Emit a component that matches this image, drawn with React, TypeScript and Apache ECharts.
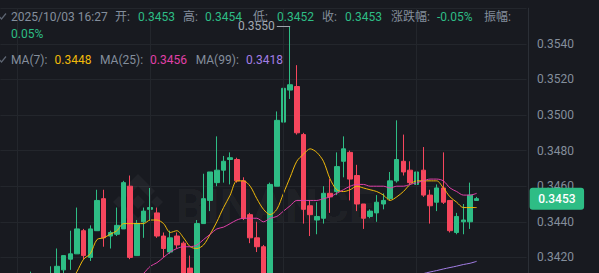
import React, { useEffect, useRef } from "react";
import * as echarts from "echarts";

// ---- data (oldest -> newest), each candle: open, close, low, high ----
const opens = [
  0.3402, 0.3405, 0.3403, 0.3407, 0.3406, 0.3409, 0.3407, 0.3406, 0.3409, 0.3413,
  0.3419, 0.3422, 0.3435, 0.3420, 0.3435, 0.3453, 0.3432, 0.3433, 0.3436, 0.3460,
  0.3421, 0.3440, 0.3447, 0.3445, 0.3432, 0.3423, 0.3432, 0.3428, 0.3414, 0.3406,
  0.3439, 0.3452, 0.3462, 0.3469, 0.3475, 0.3475, 0.3463, 0.3444, 0.3431, 0.3426,
  0.3404, 0.3460, 0.3496, 0.3514, 0.3516, 0.3489, 0.3449, 0.3441, 0.3442, 0.3456,
  0.3457, 0.3474, 0.3479, 0.3466, 0.3450, 0.3443, 0.3445, 0.3450, 0.3453, 0.3463,
  0.3474, 0.3469, 0.3461, 0.3469, 0.3455, 0.3451, 0.3459, 0.3452, 0.3434, 0.3440,
  0.3440, 0.3452,
];
const closes = [
  0.3405, 0.3403, 0.3407, 0.3406, 0.3409, 0.3407, 0.3410, 0.3409, 0.3415, 0.3421,
  0.3422, 0.3436, 0.3421, 0.3436, 0.3452, 0.3431, 0.3434, 0.3438, 0.3462, 0.3420,
  0.3439, 0.3446, 0.3448, 0.3432, 0.3425, 0.3431, 0.3427, 0.3408, 0.3407, 0.3439,
  0.3453, 0.3468, 0.3469, 0.3474, 0.3476, 0.3463, 0.3442, 0.3431, 0.3426, 0.3405,
  0.3461, 0.3497, 0.3515, 0.3517, 0.3490, 0.3447, 0.3444, 0.3443, 0.3456, 0.3454,
  0.3471, 0.3481, 0.3464, 0.3450, 0.3442, 0.3446, 0.3451, 0.3452, 0.3463, 0.3475,
  0.3468, 0.3462, 0.3468, 0.3455, 0.3449, 0.3459, 0.3451, 0.3435, 0.3443, 0.3441,
  0.3455, 0.3453,
];
const lows = [
  0.3399, 0.3400, 0.3401, 0.3403, 0.3404, 0.3404, 0.3405, 0.3404, 0.3407, 0.3409,
  0.3413, 0.3422, 0.3419, 0.3418, 0.3435, 0.3426, 0.3425, 0.3432, 0.3436, 0.3419,
  0.3421, 0.3431, 0.3441, 0.3431, 0.3420, 0.3422, 0.3425, 0.3405, 0.3404, 0.3404,
  0.3439, 0.3446, 0.3460, 0.3462, 0.3461, 0.3462, 0.3441, 0.3428, 0.3423, 0.3402,
  0.3400, 0.3460, 0.3480, 0.3509, 0.3489, 0.3439, 0.3432, 0.3433, 0.3439, 0.3445,
  0.3455, 0.3465, 0.3452, 0.3446, 0.3436, 0.3442, 0.3440, 0.3447, 0.3452, 0.3462,
  0.3466, 0.3461, 0.3448, 0.3454, 0.3439, 0.3446, 0.3450, 0.3434, 0.3433, 0.3433,
  0.3436, 0.3452,
];
const highs = [
  0.3407, 0.3408, 0.3409, 0.3410, 0.3412, 0.3411, 0.3411, 0.3415, 0.3425, 0.3421,
  0.3435, 0.3448, 0.3436, 0.3438, 0.3458, 0.3458, 0.3435, 0.3448, 0.3463, 0.3466,
  0.3441, 0.3448, 0.3459, 0.3448, 0.3434, 0.3435, 0.3434, 0.3429, 0.3421, 0.3441,
  0.3467, 0.3468, 0.3488, 0.3477, 0.3479, 0.3476, 0.3465, 0.3445, 0.3440, 0.3427,
  0.3462, 0.3502, 0.3517, 0.3550, 0.3528, 0.3490, 0.3452, 0.3451, 0.3460, 0.3464,
  0.3479, 0.3488, 0.3480, 0.3472, 0.3450, 0.3447, 0.3455, 0.3456, 0.3468, 0.3497,
  0.3489, 0.3474, 0.3482, 0.3482, 0.3458, 0.3461, 0.3479, 0.3452, 0.3445, 0.3450,
  0.3462, 0.3454,
];

// moving averages (only the visible stretch, newest last)
const ma7Visible = [
  0.3406, 0.3412, 0.3419, 0.3422, 0.3430, 0.3431, 0.3433, 0.3435, 0.3439, 0.3439,
  0.3439, 0.3439, 0.3441, 0.3441, 0.3439, 0.3434, 0.3435, 0.3431, 0.3426, 0.3425,
  0.3427, 0.3433, 0.3440, 0.3448, 0.3455, 0.3463, 0.3463, 0.3460, 0.3453, 0.3447,
  0.3444, 0.3447, 0.3456, 0.3465, 0.3474, 0.3478, 0.3481, 0.3479, 0.3474, 0.3464,
  0.3458, 0.3457, 0.3458, 0.3460, 0.3459, 0.3458, 0.3457, 0.3455, 0.3452, 0.3454,
  0.3457, 0.3461, 0.3463, 0.3463, 0.3463, 0.3463, 0.3459, 0.3454, 0.3451, 0.3448,
  0.3448, 0.3448,
];
const ma25Visible = [
  0.3408, 0.3411, 0.3415, 0.3417, 0.3420, 0.3423, 0.3425, 0.3426, 0.3426, 0.3427,
  0.3430, 0.3433, 0.3436, 0.3437, 0.3439, 0.3441, 0.3442, 0.3442, 0.3442, 0.3440,
  0.3442, 0.3443, 0.3446, 0.3449, 0.3452, 0.3452, 0.3452, 0.3452, 0.3453, 0.3454,
  0.3456, 0.3458, 0.3460, 0.3461, 0.3461, 0.3460, 0.3460, 0.3460, 0.3459, 0.3460,
  0.3460, 0.3461, 0.3462, 0.3463, 0.3464, 0.3464, 0.3463, 0.3459, 0.3457, 0.3455,
  0.3455, 0.3456,
];
const ma99Visible = [
  0.34101, 0.34109, 0.34118, 0.34126, 0.34135, 0.34143, 0.34151, 0.3416, 0.34167, 0.34178,
];

const EMPTY_SLOTS = 7; // empty room right of the last candle
const lastTime = "2025/10/03 16:27";
const yTicks = { min: 0.34, max: 0.356, interval: 0.002 };
const shownRange = { low: 0.341, high: 0.355 }; // tick labels that fit in the window
const gridEvery = 20; // vertical grid every 20 candles
const gridFirst = 2;

const UP = "#2ebd85";
const DOWN = "#f6465d";
const BG = "#181a20";
const GRIDC = "#23262c";
const TXT = "#848e9c";
const FONT = 'Roboto, "Noto Sans CJK SC", sans-serif';

export default function App() {
  const ref = useRef<HTMLDivElement>(null);
  useEffect(() => {
    if (!ref.current) return;
    const chart = echarts.init(ref.current, undefined, { renderer: "svg" });
    const n = opens.length;
    const total = n + EMPTY_SLOTS;
    const cats: string[] = [];
    for (let i = 0; i < total; i++) cats.push("c" + i);
    const candles: any[] = [];
    for (let i = 0; i < total; i++) {
      candles.push(i < n ? [opens[i], closes[i], lows[i], highs[i]] : "-");
    }
    const pad = (arr: number[]) => {
      const out: any[] = [];
      for (let i = 0; i < total; i++) {
        const j = i - (n - arr.length);
        out.push(j >= 0 && j < arr.length ? arr[j] : null);
      }
      return out;
    };
    let hiIdx = 0;
    for (let i = 1; i < n; i++) if (highs[i] > highs[hiIdx]) hiIdx = i;
    const lastClose = closes[n - 1];
    const vLines: any[] = [];
    for (let i = gridFirst; i < total; i += gridEvery) vLines.push({ xAxis: cats[i] });

    const txt = (text: string, x: number, y: number, fill: string, extra: any = {}) => ({
      type: "text",
      x,
      y,
      z: 100,
      silent: true,
      style: { text, fill, font: "12px " + FONT, verticalAlign: "middle", ...extra },
    });
    const wm = "rgba(255,255,255,0.045)";
    const cx = 138, cy = 202;
    const dia = (dx: number, dy: number, h: number) => ({
      type: "polygon",
      z: 1,
      silent: true,
      shape: { points: [[cx + dx, cy + dy - h], [cx + dx + h, cy + dy], [cx + dx, cy + dy + h], [cx + dx - h, cy + dy]] },
      style: { fill: wm },
    });
    const chev = (s: number) => ({
      type: "polygon",
      z: 1,
      silent: true,
      shape: {
        points: [
          [cx, cy + s * 28], [cx + 17, cy + s * 11], [cx + 11, cy + s * 5],
          [cx, cy + s * 16], [cx - 11, cy + s * 5], [cx - 17, cy + s * 11],
        ],
      },
      style: { fill: wm },
    });

    chart.setOption({
      animation: false,
      backgroundColor: BG,
      textStyle: { fontFamily: FONT },
      grid: { left: 0.34, top: 8.2, width: 526.3, height: 284.8, outerBoundsMode: "none", containLabel: false },
      xAxis: {
        type: "category",
        data: cats,
        boundaryGap: true,
        axisLine: { show: false },
        axisTick: { show: false },
        axisLabel: { show: false },
        splitLine: { show: false },
      },
      yAxis: {
        type: "value",
        position: "right",
        offset: 1.4,
        min: yTicks.min,
        max: yTicks.max,
        interval: yTicks.interval,
        axisLine: { show: true, lineStyle: { color: "#2b2f36" } },
        axisTick: { show: false },
        axisLabel: {
          color: TXT,
          fontSize: 12,
          margin: 9,
          fontFamily: FONT,
          formatter: (v: number) => (v > shownRange.high || v < shownRange.low ? "" : v.toFixed(4)),
        },
        splitLine: { show: true, lineStyle: { color: GRIDC, width: 1 } },
      },
      series: [
        {
          type: "line",
          z: 1,
          silent: true,
          data: cats.map(() => null),
          markLine: {
            silent: true,
            symbol: ["none", "none"],
            label: { show: false },
            lineStyle: { color: GRIDC, type: "solid", width: 1 },
            data: vLines,
          },
        },
        {
          type: "candlestick",
          data: candles,
          barWidth: 5,
          z: 3,
          itemStyle: { color: UP, color0: DOWN, borderColor: UP, borderColor0: DOWN, borderWidth: 1 },
          markLine: {
            silent: true,
            precision: 6,
            symbol: ["none", "none"],
            data: [
              [
                {
                  coord: [cats[hiIdx - 2], highs[hiIdx]],
                  lineStyle: { color: "#9ea4ad", width: 1, type: "solid" },
                  label: {
                    show: true,
                    position: "start",
                    distance: 2,
                    color: "#a3a9b2",
                    fontSize: 12,
                    fontFamily: FONT,
                    formatter: highs[hiIdx].toFixed(4),
                  },
                },
                { coord: [cats[hiIdx], highs[hiIdx]] },
              ],
            ],
          },
        },
        {
          type: "line",
          data: pad(ma7Visible),
          symbol: "none",
          smooth: 0.3,
          z: 4,
          lineStyle: { color: "#f0b90b", width: 1 },
        },
        {
          type: "line",
          data: pad(ma25Visible),
          symbol: "none",
          smooth: 0.3,
          z: 4,
          lineStyle: { color: "#e040a8", width: 1 },
        },
        {
          type: "line",
          data: pad(ma99Visible),
          symbol: "none",
          smooth: 0.3,
          z: 4,
          lineStyle: { color: "#a37ee6", width: 1 },
          markLine: {
            silent: true,
            precision: 6,
            symbol: ["none", "none"],
            data: [
              {
                yAxis: lastClose,
                lineStyle: { color: "rgba(0,0,0,0)", width: 0 },
                label: {
                  show: true,
                  position: "end",
                  distance: 3,
                  color: "#ffffff",
                  fontSize: 12,
                  fontWeight: 500,
                  fontFamily: FONT,
                  backgroundColor: UP,
                  borderRadius: 3,
                  padding: [5, 8.5, 5, 8.5],
                  formatter: lastClose.toFixed(4),
                },
              },
            ],
          },
        },
      ],
      graphic: [
        dia(0, 0, 7),
        dia(-19, 0, 6),
        dia(19, 0, 6),
        chev(-1),
        chev(1),
        {
          type: "text",
          x: 176,
          y: 205,
          z: 1,
          silent: true,
          style: { text: "BINANCE", fill: wm, font: "bold 47px " + FONT, verticalAlign: "middle" },
        },
        {
          type: "polyline",
          z: 100,
          silent: true,
          shape: { points: [[-3, 14], [1.5, 19], [6, 13.5]] },
          style: { stroke: "#5e6673", lineWidth: 1.2, fill: null },
        },
        {
          type: "polyline",
          z: 100,
          silent: true,
          shape: { points: [[-3, 57], [1.5, 62], [6, 56.5]] },
          style: { stroke: "#5e6673", lineWidth: 1.2, fill: null },
        },
        txt(lastTime, 11, 17, TXT),
        txt("开:", 115, 17, TXT),
        txt("0.3453", 138, 17, UP),
        txt("高:", 183, 17, TXT),
        txt("0.3454", 205, 17, UP),
        txt("低:", 253, 17, TXT),
        txt("0.3452", 277, 17, UP),
        txt("收:", 322, 17, TXT),
        txt("0.3453", 345, 17, UP),
        txt("涨跌幅:", 391, 17, TXT),
        txt("-0.05%", 437, 17, UP),
        txt("振幅:", 484, 17, TXT),
        txt("0.05%", 11, 34, UP),
        txt("MA(7):", 11, 60, TXT),
        txt("0.3448", 54.5, 60, "#f0b90b"),
        txt("MA(25):", 100, 60, TXT),
        txt("0.3456", 150, 60, "#e040a8"),
        txt("MA(99):", 195.7, 60, TXT),
        txt("0.3418", 246, 60, "#a37ee6"),
      ],
    });
    return () => chart.dispose();
  }, []);
  return (
    <div
      ref={ref}
      style={{ position: "fixed", left: 0, top: 0, width: 599, height: 273, overflow: "hidden", background: BG }}
    />
  );
}
